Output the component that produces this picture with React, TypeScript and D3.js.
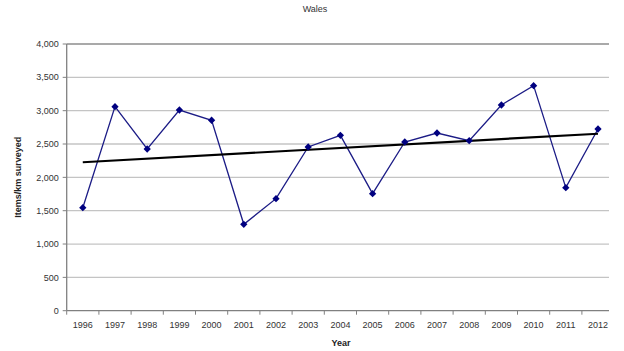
import React, { useEffect, useRef } from "react";
import * as d3 from "d3";

const years = [
  "1996", "1997", "1998", "1999", "2000", "2001", "2002", "2003", "2004",
  "2005", "2006", "2007", "2008", "2009", "2010", "2011", "2012",
];
const itemsPerKm = [
  1545, 3060, 2425, 3010, 2856, 1296, 1680, 2455, 2630,
  1755, 2530, 2665, 2550, 3085, 3375, 1845, 2725,
];
const yTicks = [0, 500, 1000, 1500, 2000, 2500, 3000, 3500, 4000];

const chartTitle = "Wales";
const xTitle = "Year";
const yTitle = "Items/km surveyed";

export default function App() {
  const svgRef = useRef<SVGSVGElement>(null);

  useEffect(() => {
    const width = 624;
    const height = 351;
    const left = 66.7;
    const right = 609;
    const top = 44;
    const bottom = 310.7;
    const font = "'Liberation Sans', Arial, sans-serif";

    const svg = d3.select(svgRef.current);
    svg.selectAll("*").remove();
    svg.attr("width", width).attr("height", height);

    // the last band is cut off by the plot edge, as in the original
    const x = d3.scaleBand().domain(years).range([left, left + 17 * 32.2]);
    const y = d3.scaleLinear().domain([0, 4000]).range([bottom, top]);
    const cx = (d: string) => (x(d) as number) + x.bandwidth() / 2;

    // gridlines
    svg
      .append("g")
      .selectAll("line")
      .data(yTicks.filter((t) => t > 0))
      .join("line")
      .attr("x1", left)
      .attr("x2", right)
      .attr("y1", (d) => y(d))
      .attr("y2", (d) => y(d))
      .attr("stroke", (d) => (d === 4000 ? "#8c8c8c" : "#c4c4c4"))
      .attr("stroke-width", 1.3);

    // y axis
    const yAxis = svg.append("g");
    yAxis
      .append("line")
      .attr("x1", left)
      .attr("x2", left)
      .attr("y1", top)
      .attr("y2", bottom)
      .attr("stroke", "#808080")
      .attr("stroke-width", 1.3);
    yAxis
      .selectAll("line.tick")
      .data(yTicks)
      .join("line")
      .attr("class", "tick")
      .attr("x1", left - 4)
      .attr("x2", left)
      .attr("y1", (d) => y(d))
      .attr("y2", (d) => y(d))
      .attr("stroke", "#808080");
    yAxis
      .selectAll("text")
      .data(yTicks)
      .join("text")
      .attr("x", left - 8)
      .attr("y", (d) => y(d))
      .attr("dy", "0.35em")
      .attr("text-anchor", "end")
      .attr("font-family", font)
      .attr("font-size", 9)
      .attr("fill", "#333")
      .text((d) => d3.format(",")(d));

    // x axis
    const xAxis = svg.append("g");
    xAxis
      .append("line")
      .attr("x1", left)
      .attr("x2", right)
      .attr("y1", bottom)
      .attr("y2", bottom)
      .attr("stroke", "#808080")
      .attr("stroke-width", 1.3);
    xAxis
      .selectAll("line.tick")
      .data(years)
      .join("line")
      .attr("class", "tick")
      .attr("x1", (d) => x(d) as number)
      .attr("x2", (d) => x(d) as number)
      .attr("y1", bottom)
      .attr("y2", bottom + 4)
      .attr("stroke", "#808080");
    xAxis
      .selectAll("text")
      .data(years)
      .join("text")
      .attr("x", cx)
      .attr("y", bottom + 14)
      .attr("dy", "0.35em")
      .attr("text-anchor", "middle")
      .attr("font-family", font)
      .attr("font-size", 9)
      .attr("fill", "#333")
      .text((d) => d);

    // data line
    const pts = years.map((yr, i) => [cx(yr), y(itemsPerKm[i])] as [number, number]);
    svg
      .append("path")
      .attr("d", d3.line()(pts))
      .attr("fill", "none")
      .attr("stroke", "#1c1c86")
      .attr("stroke-width", 1.3);

    // linear trend (least squares)
    const idx = years.map((_, i) => i);
    const mx = d3.mean(idx) as number;
    const my = d3.mean(itemsPerKm) as number;
    const slope =
      (d3.sum(idx, (i) => (i - mx) * (itemsPerKm[i] - my)) as number) /
      (d3.sum(idx, (i) => (i - mx) ** 2) as number);
    const trendAt = (i: number) => my + slope * (i - mx);
    const last = years.length - 1;
    svg
      .append("line")
      .attr("x1", cx(years[0]))
      .attr("x2", cx(years[last]))
      .attr("y1", y(trendAt(0)))
      .attr("y2", y(trendAt(last)))
      .attr("stroke", "#000")
      .attr("stroke-width", 2.2);

    // diamond markers
    svg
      .append("g")
      .selectAll("path")
      .data(pts)
      .join("path")
      .attr("transform", (d) => `translate(${d[0]},${d[1]})`)
      .attr("d", d3.symbol(d3.symbolDiamond2, 34)())
      .attr("fill", "#000080");

    // titles
    svg
      .append("text")
      .attr("x", 315)
      .attr("y", 12)
      .attr("text-anchor", "middle")
      .attr("font-family", font)
      .attr("font-size", 9)
      .attr("fill", "#333")
      .text(chartTitle);
    svg
      .append("text")
      .attr("x", 341)
      .attr("y", 346)
      .attr("text-anchor", "middle")
      .attr("font-family", font)
      .attr("font-size", 9)
      .attr("font-weight", "bold")
      .attr("fill", "#222")
      .text(xTitle);
    svg
      .append("text")
      .attr("transform", `translate(21,${(top + bottom) / 2}) rotate(-90)`)
      .attr("text-anchor", "middle")
      .attr("font-family", font)
      .attr("font-size", 9)
      .attr("font-weight", "bold")
      .attr("fill", "#222")
      .text(yTitle);
  }, []);

  return (
    <svg
      ref={svgRef}
      style={{ position: "absolute", left: 0, top: 0, background: "#fff" }}
    />
  );
}
